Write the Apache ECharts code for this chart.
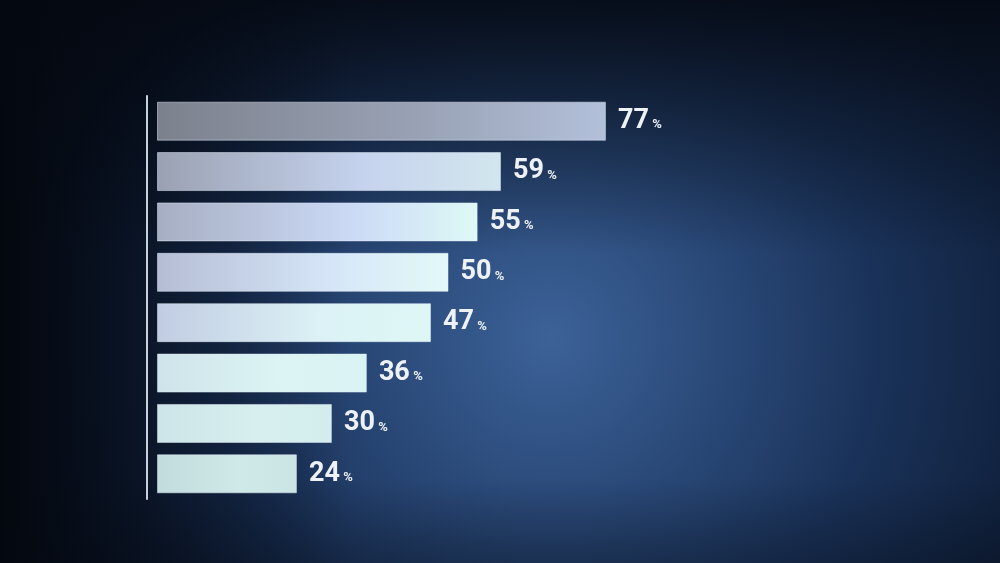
<!DOCTYPE html>
<html>
<head>
<meta charset="utf-8">
<script src="https://cdn.jsdelivr.net/npm/echarts@6/dist/echarts.min.js"></script>
<style>html,body{margin:0;padding:0;background:#0a1424}#c{width:1000px;height:563px}</style>
</head>
<body>
<div id="c"></div>
<script>
var categories = ['A', 'B', 'C', 'D', 'E', 'F', 'G', 'H'];
var values = [77, 59, 55, 50, 47, 36, 30, 24];
var barStops = [
  ['#7c818d', '#9aa3b6', '#b3c0da'],
  ['#9aa1b2', '#c6d3ee', '#d2e6ee'],
  ['#a6aec2', '#cbd9f5', '#def9f6'],
  ['#b5bdd4', '#d6e6f8', '#e3f9f7'],
  ['#c1cce2', '#dcf2f6', '#def7f5'],
  ['#cfe3ea', '#dcf5f4', '#d9f3f2'],
  ['#cde4e8', '#d7f0ef', '#d3eded'],
  ['#c2dcdd', '#cfe8e8', '#cbe4e4']
];

var chart = echarts.init(document.getElementById('c'));
var data = values.map(function (v, i) {
  var s = barStops[i];
  return {
    value: v,
    itemStyle: {
      color: new echarts.graphic.LinearGradient(0, 0, 1, 0, [
        {offset: 0, color: s[0]}, {offset: 0.6, color: s[1]}, {offset: 1, color: s[2]}
      ]),
      borderColor: 'rgba(230,240,250,0.5)',
      borderWidth: 1
    }
  };
});

var W = 1000, H = 563;
chart.setOption({
  backgroundColor: '#1a3058',
  animation: false,
  graphic: [
    {type: 'rect', z: -10, silent: true, shape: {x: 0, y: 0, width: W, height: H},
     style: {fill: new echarts.graphic.RadialGradient(0.55, 0.6, 0.9, [
       {offset: 0, color: '#3c6298'},
       {offset: 0.3, color: '#2c4c7c'},
       {offset: 0.65, color: '#1a3259'},
       {offset: 1, color: '#0f1f3a'}
     ])}},
    {type: 'rect', z: -9, silent: true, shape: {x: 0, y: 0, width: W, height: H},
     style: {fill: new echarts.graphic.LinearGradient(0, 0, 1, 0, [
       {offset: 0, color: 'rgba(3,6,12,0.95)'},
       {offset: 0.12, color: 'rgba(5,10,20,0.7)'},
       {offset: 0.35, color: 'rgba(5,10,20,0)'},
       {offset: 1, color: 'rgba(5,10,20,0)'}
     ])}},
    {type: 'rect', z: -8, silent: true, shape: {x: 0, y: 0, width: W, height: H},
     style: {fill: new echarts.graphic.LinearGradient(0, 0, 0, 1, [
       {offset: 0, color: 'rgba(4,8,16,0.85)'},
       {offset: 0.2, color: 'rgba(4,8,16,0.45)'},
       {offset: 0.45, color: 'rgba(4,8,16,0)'},
       {offset: 0.85, color: 'rgba(4,8,16,0)'},
       {offset: 1, color: 'rgba(4,8,16,0.3)'}
     ])}}
  ],
  grid: {left: 147, right: 260, top: 96, height: 403},
  xAxis: {
    type: 'value', min: -1.715, max: 100,
    show: false
  },
  yAxis: {
    type: 'category', data: categories, inverse: true,
    axisLine: {show: true, onZero: false, lineStyle: {color: '#c8d0dc', width: 2}},
    axisTick: {show: false},
    axisLabel: {show: false}
  },
  series: [{
    type: 'bar',
    data: data,
    barWidth: 39,
    label: {
      show: true,
      position: 'right',
      distance: 12,
      formatter: function (p) { return '{v|' + p.value + '} {p|%}'; },
      rich: {
        v: {fontFamily: 'Roboto, sans-serif', fontWeight: 'bold', fontSize: 27, color: '#eef2f7'},
        p: {fontFamily: 'Roboto, sans-serif', fontWeight: 'bold', fontSize: 13, color: '#eef2f7', verticalAlign: 'bottom', padding: [0, 0, 3, 0]}
      }
    }
  }]
});
</script>
</body>
</html>
